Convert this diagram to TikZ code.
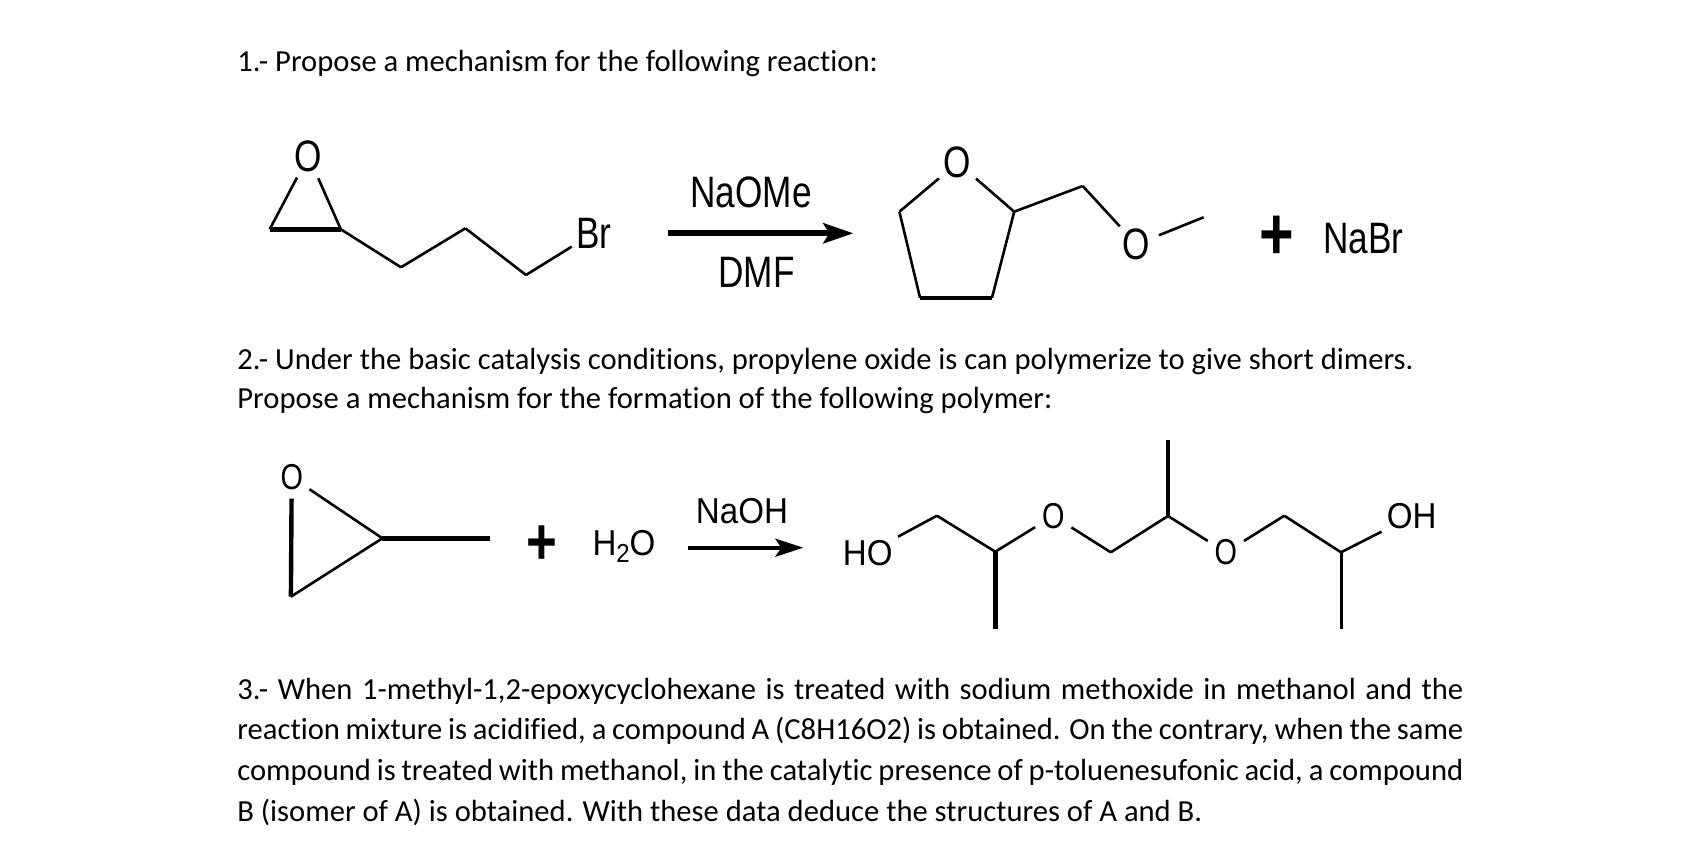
\documentclass[tikz,border=0pt]{standalone}
\usepackage{fontspec}
\setmainfont[Ligatures=NoCommon]{Carlito}
\newfontfamily\chemfont[FakeStretch=0.8]{Liberation Sans}
\newfontfamily\chemfontb[FakeStretch=0.92]{Liberation Sans}
\usetikzlibrary{arrows.meta}
\newcommand{\fullline}[1]{\makebox[613pt][s]{#1}}
\tikzset{
	bond/.style={line width=1.3pt},
	wide/.style={line width=2.2pt},
	textline/.style={anchor=base west,inner sep=0pt,font=\fontsize{15.3}{18}\selectfont},
	atom/.style={circle,inner sep=0pt,minimum size=24pt,font=\chemfont\fontsize{22}{26}\selectfont},
	atomb/.style={circle,inner sep=0pt,minimum size=21pt,font=\chemfont\fontsize{18}{22}\selectfont},
	label/.style={inner sep=2pt,font=\chemfont\fontsize{22}{26}\selectfont},
	labelb/.style={inner sep=2.5pt,font=\chemfontb\fontsize{18}{22}\selectfont},
	plus/.style={inner sep=0pt,font=\chemfont\bfseries\fontsize{#1}{#1}\selectfont}
}
\begin{document}
\begin{tikzpicture}[x=0.5pt,y=-0.5pt]
\useasboundingbox (0,0) rectangle (1699,846);

\node[textline] (q1) at (237,71) {1.- Propose a mechanism for the following reaction:};
\node[textline] (q2a) at (237,369) {2.- Under the basic catalysis conditions, propylene oxide is can polymerize to give short dimers.};
\node[textline] (q2b) at (237,408) {Propose a mechanism for the formation of the following polymer:};
\node[textline] (q3a) at (237,699) {\fullline{3.- When 1-methyl-1,2-epoxycyclohexane is treated with sodium methoxide in methanol and the}};
\node[textline] (q3b) at (237,739) {\fullline{reaction mixture is acidified, a compound A (C8H16O2) is obtained. On the contrary, when the same}};
\node[textline] (q3c) at (237,780) {\fullline{compound is treated with methanol, in the catalytic presence of p-toluenesufonic acid, a compound}};
\node[textline] (q3d) at (237,821) {B (isomer of A) is obtained. With these data deduce the structures of A and B.};

\node[atom] (oa) at (308.4,156) {O};
\coordinate (a1) at (269.7,229.3);
\coordinate (a2) at (340.8,229.3);
\coordinate (a3) at (401,267.3);
\coordinate (a4) at (465.4,228.3);
\coordinate (a5) at (526,275);
\node[label] (br) at (593.7,233) {Br};
\foreach \a/\b in {oa/a1,oa/a2,a2/a3,a3/a4,a4/a5,a5/br}
	\draw[bond] (\a) -- (\b);
\draw[wide] (a1) -- (a2);

\node[label] (naome) at (751,192.3) {NaOMe};
\node[label] (dmf) at (756.6,272) {DMF};
\coordinate (r1) at (668,233.3);
\coordinate (r2) at (853.4,233.3);
\draw[line width=3pt,-{Stealth[length=15pt,width=10pt,inset=3pt]}] (r1) -- (r2);

\node[atom] (ob) at (957.6,162.7) {O};
\coordinate (b1) at (899.4,211.7);
\coordinate (b2) at (920,297.7);
\coordinate (b3) at (992,297.7);
\coordinate (b4) at (1014.2,211.7);
\coordinate (b5) at (1082.7,186);
\node[atom] (oc) at (1136.3,244.3) {O};
\coordinate (b6) at (1203.7,217.3);
\foreach \a/\b in {ob/b1,b1/b2,b3/b4,b4/ob,b4/b5,b5/oc,oc/b6}
	\draw[bond] (\a) -- (\b);
\draw[wide] (b2) -- (b3);
\node[plus=37] (pa) at (1277.1,238) {+};
\node[label] (nabr) at (1363.2,239) {NaBr};

\node[atomb] (od) at (291.7,477.3) {O};
\coordinate (d1) at (290.9,596.7);
\coordinate (d2) at (382.4,538.3);
\coordinate (d3) at (489.9,538.3);
\draw[bond] (od) -- (d2);
\draw[wide] (od) -- (d1);
\draw[bond] (d1) -- (d2);
\draw[wide] (d2) -- (d3);
\node[plus=33] (pb) at (541.6,544.7) {+};
\node[labelb] (water) at (624,546) {H\raisebox{-3.5pt}{\fontsize{13}{13}\selectfont 2}O};
\node[labelb] (naoh) at (742,511) {NaOH};
\coordinate (s1) at (687.8,547.7);
\coordinate (s2) at (803.3,547.7);
\draw[line width=1.8pt,-{Stealth[length=14pt,width=9pt,inset=3pt]}] (s1) -- (s2);

\node[labelb] (ho) at (867.8,553) {HO};
\coordinate (e1) at (936.9,515.7);
\coordinate (e2) at (995.3,551.7);
\coordinate (e3) at (995.3,629);
\node[atomb] (oe) at (1053.3,516) {O};
\coordinate (e4) at (1110.8,552.3);
\coordinate (e5) at (1168,516);
\coordinate (e6) at (1168,440);
\node[atomb] (of) at (1225.9,552.3) {O};
\coordinate (e7) at (1284.3,515.7);
\coordinate (e8) at (1341,552.3);
\coordinate (e9) at (1341,629);
\node[labelb] (oh) at (1411.8,516.3) {OH};
\foreach \a/\b in {ho/e1,e1/e2,e2/oe,oe/e4,e4/e5,e5/of,of/e7,e7/e8,e8/oh}
	\draw[bond] (\a) -- (\b);
\draw[line width=2.4pt] (e2) -- (e3);
\draw[wide] (e5) -- (e6);
\draw[line width=1.5pt] (e8) -- (e9);
\end{tikzpicture}
\end{document}
